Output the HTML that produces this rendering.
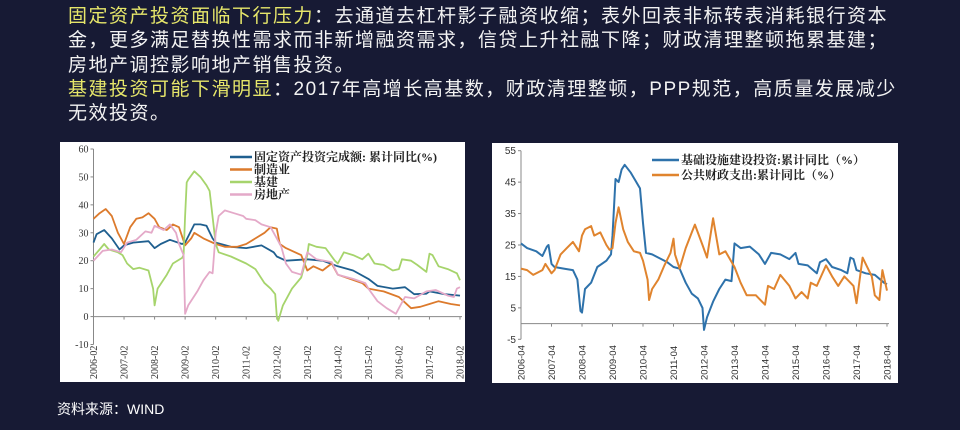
<!DOCTYPE html>
<html><head><meta charset="utf-8">
<style>
html,body{margin:0;padding:0;background:#171a34;}
body{width:960px;height:430px;position:relative;overflow:hidden;font-family:"Liberation Sans","Noto Sans CJK SC",sans-serif;}
#txt{position:absolute;left:68px;top:5px;width:900px;color:#f2f2f2;font-size:19px;line-height:24.3px;white-space:nowrap;letter-spacing:1.5px;}
.hl{color:#e6e66a;}
#src{position:absolute;left:57px;top:399px;color:#fff;font-size:14px;}
svg{position:absolute;left:0;top:0;}
</style></head><body>
<div id="txt"><span class="hl">固定资产投资面临下行压力</span>：去通道去杠杆影子融资收缩；表外回表非标转表消耗银行资本<br>金，更多满足替换性需求而非新增融资需求，信贷上升社融下降；财政清理整顿拖累基建；<br>房地产调控影响地产销售投资。<br><span class="hl">基建投资可能下滑明显</span>：2017年高增长高基数，财政清理整顿，PPP规范，高质量发展减少<br>无效投资。</div>
<div id="src">资料来源：WIND</div>
<svg id="chart" width="960" height="430"></svg>
<script>
// Left chart data: [years since 2006-02, value %]
const leftYears = ["2006-02","2007-02","2008-02","2009-02","2010-02","2011-02","2012-02","2013-02","2014-02","2015-02","2016-02","2017-02","2018-02"];
const leftTicks = [60,50,40,30,20,10,0,-10];
const leftNames = ["固定资产投资完成额: 累计同比(%)","制造业","基建","房地产"];
const faiSeries = [[0,26.5],[0.1,29.5],[0.35,31],[0.6,28],[0.85,24],[1,25.5],[1.3,26.5],[1.8,27],[2,24.5],[2.2,26],[2.5,27.5],[2.9,26],[3,26.5],[3.3,33],[3.5,33],[3.7,32.5],[3.9,28],[4,26.5],[4.5,25],[5,24.5],[5.5,25.5],[5.9,23],[6,21.5],[6.3,20],[7,20.5],[7.5,20],[8,18],[8.5,16.5],[9,13.5],[9.3,11],[9.8,10],[10.2,10.5],[10.5,8],[10.9,8.2],[11,9],[11.5,8],[12,7.5]];
const mfgSeries = [[0,35],[0.2,37],[0.4,38.5],[0.6,36],[0.8,30],[1,26],[1.2,32],[1.4,35],[1.6,35.5],[1.8,37],[2,35],[2.15,32],[2.4,31],[2.6,33],[2.8,32],[3,25.5],[3.2,28],[3.3,30],[3.6,28],[4,26],[4.3,25],[4.7,25],[5,26],[5.3,28],[5.6,30],[5.8,32],[6,31.5],[6.1,26],[6.3,24.5],[6.8,22],[7,16.5],[7.2,18],[7.5,16.5],[7.8,19],[8,15],[8.4,13.5],[8.8,12],[9,10],[9.5,9],[10,7],[10.2,5],[10.4,3],[10.7,3.5],[11,4.5],[11.3,5.5],[11.7,4.5],[12,4]];
const infraSeries = [[0,21.5],[0.2,24],[0.35,26],[0.5,24],[0.8,23],[0.95,22],[1.1,19],[1.3,17],[1.5,17.5],[1.8,16.5],[1.95,10],[2,4],[2.1,10],[2.4,15],[2.6,19],[2.9,21],[2.95,22],[3,36],[3.05,48],[3.1,49],[3.3,52],[3.5,50],[3.7,47],[3.8,45],[4,26],[4.1,23],[4.5,21.5],[5,19],[5.3,17],[5.6,12],[5.8,10],[5.95,8],[6,0],[6.05,-1.5],[6.2,4],[6.5,10],[6.8,14],[7,22],[7.05,26],[7.3,25],[7.6,24.5],[7.9,20],[8,19],[8.2,23],[8.5,22],[8.8,20.5],[9,22.5],[9.2,19],[9.5,18.5],[9.8,16.5],[10,17],[10.1,20.5],[10.4,20],[10.6,18.5],[10.9,16],[11,22.5],[11.1,22],[11.3,18],[11.6,17],[11.9,15.5],[12,13]];
const reSeries = [[0,20],[0.3,23.5],[0.6,24],[0.9,23],[1.1,26.5],[1.4,27.5],[1.7,30.5],[1.9,30],[2,32.5],[2.3,31],[2.5,33],[2.7,30],[2.8,26],[2.95,22],[3,1],[3.1,4],[3.4,9],[3.6,13],[3.8,16],[3.9,15.5],[4,30],[4.1,36],[4.3,38],[4.6,37],[4.9,36],[5,35],[5.3,34.5],[5.5,33],[5.8,32],[6,28],[6.15,25],[6.3,19],[6.5,16],[6.8,15],[7,23],[7.3,20.5],[7.8,19.5],[8,15],[8.5,13.5],[8.9,12],[9,10],[9.3,5.5],[9.6,3],[9.9,1],[10,3],[10.2,7],[10.5,6.5],[10.9,9],[11.2,9.5],[11.6,7.5],[11.8,7],[11.9,10],[12,10.5]];
// Right chart data: [years since 2006-04, value %]
const rightYears = ["2006-04","2007-04","2008-04","2009-04","2010-04","2011-04","2012-04","2013-04","2014-04","2015-04","2016-04","2017-04","2018-04"];
const rightTicks = [55,45,35,25,15,5,-5];
const rightNames = ["基础设施建设投资:累计同比（%）","公共财政支出:累计同比（%）"];
const infraInvSeries = [[0,25.5],[0.2,24],[0.5,23],[0.7,21.5],[0.85,24.5],[0.9,25],[1,19],[1.1,18],[1.4,17.5],[1.7,17],[1.85,14],[1.95,4],[2,3.5],[2.1,11],[2.3,13],[2.5,18],[2.8,20],[2.95,22],[3,28],[3.1,46],[3.2,45],[3.3,49],[3.4,50.5],[3.6,48],[3.9,43],[4,32],[4.1,22.5],[4.3,22],[4.6,20.5],[4.8,19.5],[5,18],[5.2,17.5],[5.4,13],[5.6,9.5],[5.8,8],[5.95,5],[6,-2],[6.1,2],[6.3,7],[6.5,11],[6.7,14],[6.9,13.5],[7,25.5],[7.2,24],[7.5,24.5],[7.8,22],[8,19],[8.2,22.5],[8.5,22],[8.8,20.5],[9,22.5],[9.1,19],[9.4,18.5],[9.7,16],[9.8,19.5],[10,20.5],[10.2,18],[10.5,17],[10.7,16],[10.8,21],[10.9,20.5],[11,17],[11.3,16],[11.6,15.5],[11.9,13],[12,12.5]];
const fiscalSeries = [[0,17.5],[0.2,17],[0.4,15.5],[0.7,17],[0.8,19],[1,16],[1.1,17],[1.3,22],[1.5,24],[1.7,26],[1.9,23],[2,28],[2.1,30],[2.3,31],[2.4,28],[2.6,29],[2.8,25],[2.9,23.5],[3,24],[3.1,32],[3.2,37],[3.35,30],[3.5,26],[3.7,23],[3.9,22.5],[4,20],[4.15,14],[4.2,7.5],[4.3,11],[4.5,14],[4.7,18.5],[4.9,22.5],[5,27],[5.05,22],[5.2,17.5],[5.4,24],[5.6,29],[5.7,31.5],[5.95,25],[6.1,21],[6.3,33.5],[6.5,22],[6.7,23],[7,18],[7.2,13],[7.4,9],[7.7,9],[8,6],[8.1,12],[8.3,11],[8.5,15.5],[8.8,12],[9,8],[9.2,10],[9.4,8],[9.5,13],[9.7,12],[10,18.5],[10.2,15],[10.4,12],[10.6,15],[10.9,12],[11,6.5],[11.2,21],[11.5,15],[11.6,9],[11.75,7.5],[11.85,17],[12,10.5]];

const NS='http://www.w3.org/2000/svg';
const svg=document.getElementById('chart');
function mk(tag,attrs,parent){const e=document.createElementNS(NS,tag);for(const k in attrs)e.setAttribute(k,attrs[k]);(parent||svg).appendChild(e);return e;}

function drawChart(cfg){
  const g=mk('g',{});
  
  
  const bg=mk('rect',{x:cfg.px,y:cfg.py,width:cfg.pw,height:cfg.ph,fill:'#fff'},g);
  
  
  const xs=t=>cfg.x0+t*(cfg.x1-cfg.x0)/12;
  const ys=v=>cfg.yTop+(cfg.vMax-v)*(cfg.yBot-cfg.yTop)/(cfg.vMax-cfg.vMin);
  const ya=mk('line',{x1:cfg.x0,y1:ys(cfg.vMax),x2:cfg.x0,y2:ys(cfg.vMin),stroke:'#888','stroke-width':1},g);
  
  
  const xa=mk('line',{x1:cfg.x0,y1:ys(0),x2:cfg.x1+2,y2:ys(0),stroke:'#888','stroke-width':1},g);
  
  
  cfg.ticks.forEach(v=>{
    mk('line',{x1:cfg.x0-3,y1:ys(v),x2:cfg.x0,y2:ys(v),stroke:'#888'},g);
    const t=mk('text',{x:cfg.x0-5,y:ys(v)+3.5,'text-anchor':'end','font-size':cfg.tfs,'font-family':cfg.tfont,fill:'#333'},g);
    t.textContent=v;
    
    
  });
  cfg.years.forEach((lab,i)=>{
    const x=xs(i);
    mk('line',{x1:x,y1:ys(0),x2:x,y2:ys(0)+3,stroke:'#888'},g);
    const t=mk('text',{x:0,y:0,transform:`translate(${x+3.5},${cfg.labY}) rotate(-90)`,'text-anchor':'start','font-size':cfg.xfs,'font-family':cfg.tfont,fill:'#333'},g);
    t.textContent=lab;
    
    
  });
  cfg.series.forEach((s,i)=>{
    const p=mk('polyline',{points:s.data.map(d=>xs(d[0]).toFixed(1)+','+ys(d[1]).toFixed(1)).join(' '),fill:'none',stroke:s.color,'stroke-width':cfg.lw,'stroke-linejoin':'round'},g);
    
    
  });
  cfg.series.forEach((s,i)=>{
    const ly=cfg.legY+i*cfg.legDy;
    const l=mk('line',{x1:cfg.legX,y1:ly,x2:cfg.legX+cfg.legLen,y2:ly,stroke:s.color,'stroke-width':2.5},g);
    
    
    const t=mk('text',{x:cfg.legX+cfg.legLen+2,y:ly+4,'font-size':cfg.lfs,'font-family':'"Liberation Serif","Noto Serif CJK SC",serif','font-weight':'bold',fill:'#222'},g);
    t.textContent=s.label;
    
    
  });
}

drawChart({name:'left-chart',px:60,py:142,pw:405,ph:240,x0:93.5,x1:460,yTop:149,yBot:344.5,vMax:60,vMin:-10,
  ticks:leftTicks,years:leftYears,tfs:10,xfs:10,tfont:'"Liberation Serif",serif',labY:379,lw:1.8,
  legX:230,legY:157,legDy:12.5,legLen:22,lfs:12,
  series:[
    {id:'fai-line',data:faiSeries,color:'#1f5f8f',label:leftNames[0]},
    {id:'manufacturing-line',data:mfgSeries,color:'#dc7a2c',label:leftNames[1]},
    {id:'infrastructure-line',data:infraSeries,color:'#a6d46c',label:leftNames[2]},
    {id:'real-estate-line',data:reSeries,color:'#e4a9c8',label:leftNames[3]}
  ]});
drawChart({name:'right-chart',px:492,py:143,pw:406,ph:240,x0:521,x1:887,yTop:150.7,yBot:339.3,vMax:55,vMin:-5,
  ticks:rightTicks,years:rightYears,tfs:10,xfs:9.5,tfont:'"Liberation Sans",sans-serif',labY:380,lw:2,
  legX:652,legY:160,legDy:15,legLen:27,lfs:12,
  series:[
    {id:'infra-investment-line',data:infraInvSeries,color:'#2e72ab',label:rightNames[0]},
    {id:'fiscal-spending-line',data:fiscalSeries,color:'#e0842e',label:rightNames[1]}
  ]});
</script>
</body></html>
